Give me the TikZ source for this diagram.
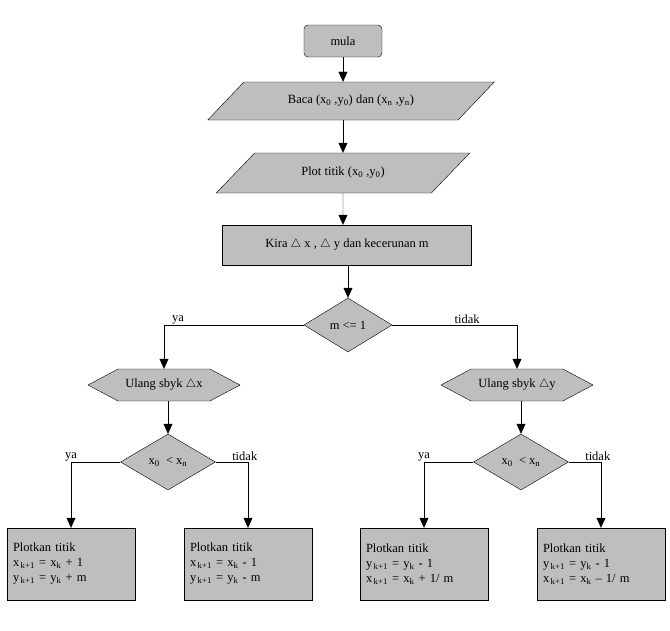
\documentclass[tikz,border=0pt]{standalone}
\usepackage{fontspec}
\setmainfont{Liberation Serif}
\usetikzlibrary{arrows.meta,shapes.geometric,shapes.symbols}
\definecolor{boxgray}{HTML}{BEBEBE}
\begin{document}
\begin{tikzpicture}[x=1pt,y=-1pt,
  base/.style={draw,fill=boxgray,inner sep=2pt,font=\fontsize{12.5}{15}\selectfont},
  io/.style={base,trapezium,trapezium stretches=true},
  dec/.style={base,diamond,inner sep=0pt},
  loop/.style={base,signal,signal to=west and east,signal pointer angle=56,minimum width=152,minimum height=32},
  plot/.style={base,minimum width=128,minimum height=72,align=left,text width=116,inner sep=6pt},
  arr/.style={-{Triangle[width=9,length=10]}},
  lbl/.style={font=\fontsize{12.5}{15}\selectfont,inner sep=1pt}]
\useasboundingbox (0,0) rectangle (670,630);
\node[base,rounded corners=4pt,minimum width=78,minimum height=32] (mula) at (343,41) {mula};
\node[io,trapezium left angle=35,trapezium right angle=145,minimum width=287,minimum height=38] (baca) at (351,101)
  {Baca (x\textsubscript{0} ,y\textsubscript{0}) dan (x\textsubscript{n} ,y\textsubscript{n})};
\node[io,trapezium left angle=39,trapezium right angle=141,minimum width=254,minimum height=40] (plot) at (343,173)
  {Plot titik (x\textsubscript{0} ,y\textsubscript{0})};
\node[base,minimum width=249,minimum height=40] (kira) at (347,245)
  {Kira $\bigtriangleup$ x , $\bigtriangleup$ y dan kecerunan m};
\node[dec,minimum width=88,minimum height=54] (d1) at (348,325) {m <= 1};
\node[loop] (h1) at (164,385) {Ulang sbyk $\bigtriangleup$x};
\node[loop] (h2) at (517,385) {Ulang sbyk $\bigtriangleup$y};
\node[dec,minimum width=95,minimum height=56] (d2) at (168,462) {x\textsubscript{0} \ < x\textsubscript{n}};
\node[dec,minimum width=95,minimum height=56] (d3) at (521,462) {x\textsubscript{0} \ < x\textsubscript{n}};
\node[plot] (p1) at (71,564) {Plotkan titik\\x\textsubscript{\,k+1} = x\textsubscript{k} + 1\\y\textsubscript{\,k+1} = y\textsubscript{k} + m};
\node[plot] (p2) at (248,564) {Plotkan titik\\x\textsubscript{\,k+1} = x\textsubscript{k} - 1\\y\textsubscript{\,k+1} = y\textsubscript{k} - m};
\node[plot] (p3) at (424,564) {Plotkan titik\\y\textsubscript{\,k+1} = y\textsubscript{k} - 1\\x\textsubscript{\,k+1} = x\textsubscript{k} + 1/ m};
\node[plot] (p4) at (601,564) {Plotkan titik\\y\textsubscript{\,k+1} = y\textsubscript{k} - 1\\x\textsubscript{\,k+1} = x\textsubscript{k} -- 1/ m};
\draw[arr] (mula) -- (mula |- baca.north);
\draw[arr] (mula |- baca.south) -- (mula |- plot.north);
\draw[arr] (plot) -- (plot |- kira.north);
\draw[arr] (d1 |- kira.south) -- (d1.north);
\draw[arr] (d1.west) -| (h1.north) node[lbl,pos=0.45,above] {ya};
\draw[arr] (d1.east) -| (h2.north) node[lbl,pos=0.3,above] {tidak};
\draw[arr] (d2 |- h1.south) -- (d2.north);
\draw[arr] (d3 |- h2.south) -- (d3.north);
\draw[arr] (d2.west) -| (p1.north) node[lbl,pos=0.5,above] {ya};
\draw[arr] (d2.east) -| (p2.north) node[lbl,pos=0.45,above] {tidak};
\draw[arr] (d3.west) -| (p3.north) node[lbl,pos=0.5,above] {ya};
\draw[arr] (d3.east) -| (p4.north) node[lbl,pos=0.45,above] {tidak};
\end{tikzpicture}
\end{document}
